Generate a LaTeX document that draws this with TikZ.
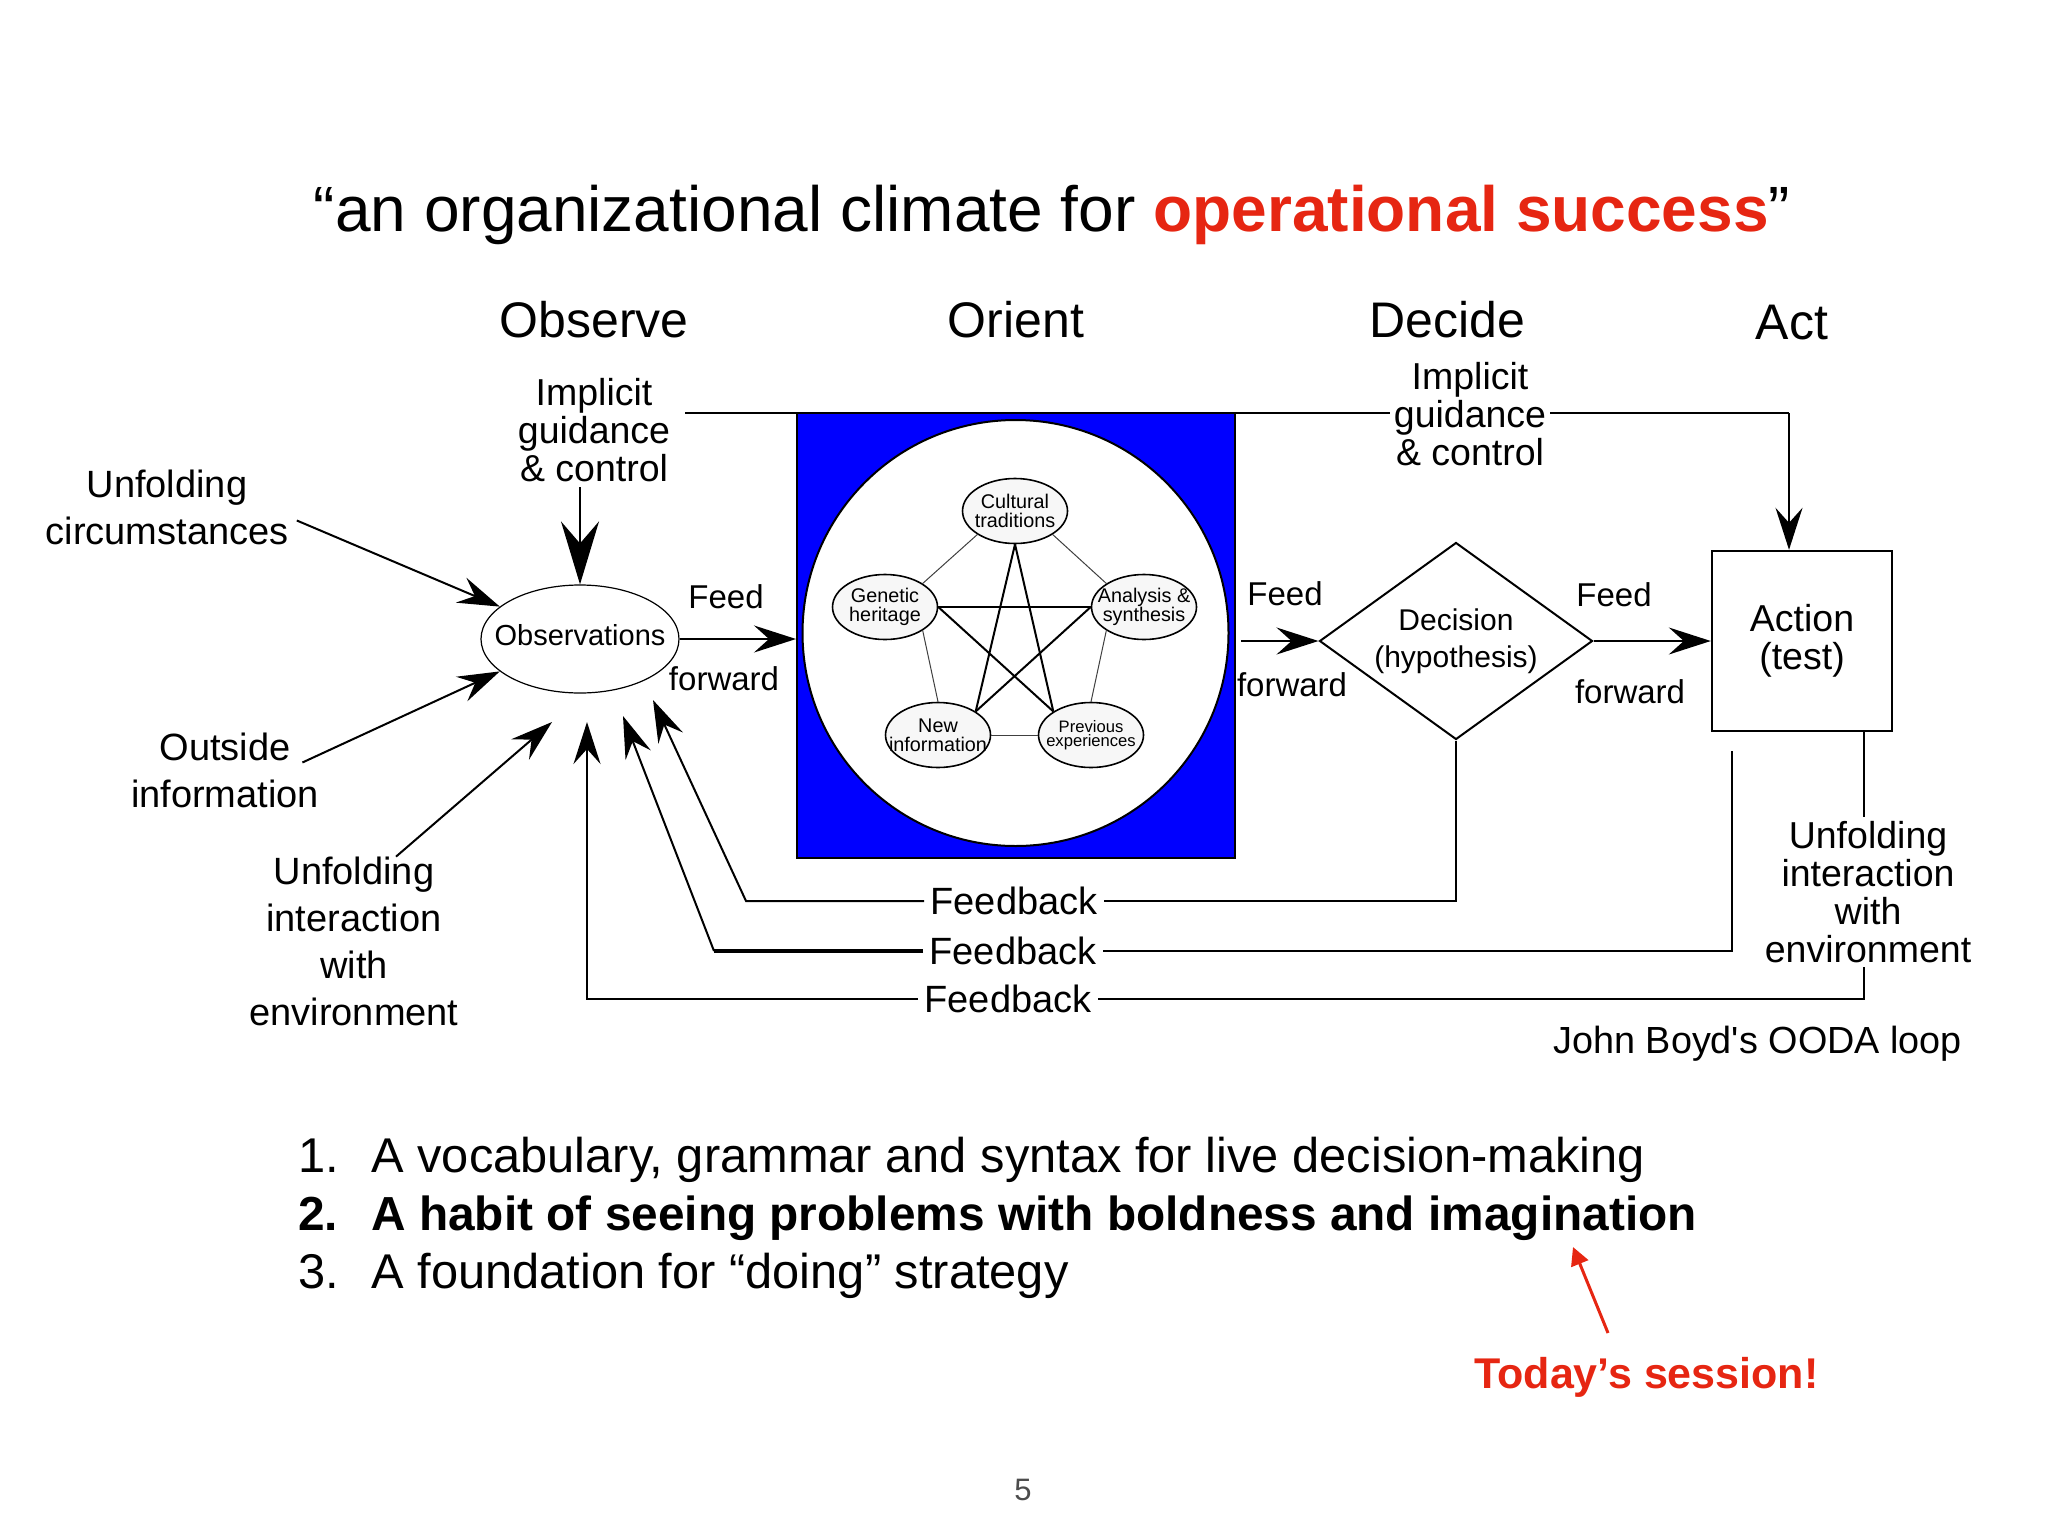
\documentclass[tikz,border=0pt]{standalone}
\usepackage{fontspec}
\setmainfont{Liberation Sans}
\usetikzlibrary{arrows.meta,shapes.geometric,calc}
\definecolor{slred}{RGB}{230,38,18}
\definecolor{ooblue}{RGB}{0,0,255}
\pgfdeclarelayer{back}
\pgfsetlayers{back,main}
\begin{document}
\begin{tikzpicture}[x=0.5pt,y=-0.5pt,
  conn/.style={line width=1pt},
  arr/.style={conn,-{Stealth[length=21pt,width=13.5pt,inset=7.5pt]}},
  bigarr/.style={conn,-{Stealth[length=31.5pt,width=19pt,inset=11pt]}},
  hdr/.style={font=\fontsize{25}{28}\selectfont,inner sep=0pt,anchor=base},
  lbl/.style={font=\fontsize{18.75}{19}\selectfont,align=center,inner sep=0pt},
  lblw/.style={lbl,fill=white,inner xsep=2pt,inner ysep=2pt},
  side/.style={font=\fontsize{19}{23.5}\selectfont,align=center,inner sep=0pt},
  feed/.style={font=\fontsize{16.5}{18}\selectfont,inner sep=0pt,anchor=base},
  fbk/.style={font=\fontsize{19}{20}\selectfont,inner xsep=3pt,inner ysep=0pt},
  ell/.style={ellipse,draw,fill=black!3,line width=0.8pt,minimum width=52.5pt,minimum height=32.5pt,inner sep=0pt},
  ilab/.style={font=\fontsize{9.9}{9.5}\selectfont,align=center,inner sep=0pt},
  ilabs/.style={font=\fontsize{8.3}{7}\selectfont,align=center,inner sep=0pt},
  star/.style={line width=1pt},
  pent/.style={line width=0.5pt,black!75},
  listtxt/.style={font=\fontsize{24.4}{28}\selectfont,inner sep=0pt,anchor=base west},
  listbold/.style={font=\bfseries\fontsize{23.9}{28}\selectfont,inner sep=0pt,anchor=base west}
]
\useasboundingbox (0,0) rectangle (2048,1536);

% title
\node[anchor=base,inner sep=0pt,font=\fontsize{32}{36}\selectfont] (title) at (1052,231)
  {“an organizational climate for \textcolor{slred}{\bfseries operational success}”};

% headers
\node[hdr] (hobs) at (594,337) {Observe};
\node[hdr] (hori) at (1016,337) {Orient};
\node[hdr] (hdec) at (1447,337) {Decide};
\node[hdr] (hact) at (1792,339) {Act};

% orient block
\node[draw,fill=ooblue,line width=1pt,minimum width=219pt,minimum height=222.5pt,inner sep=0pt] (orient) at (1016,635.5) {};
\node[circle,draw,fill=white,line width=1pt,minimum size=213pt,inner sep=0pt] (world) at (1015.5,633) {};
\node[ell,label={[ilab]center:{Cultural\\traditions}}] (C) at (1015,511) {};
\node[ell,label={[ilab]center:{Genetic\\heritage}}] (G) at (885,607) {};
\node[ell,label={[ilab]center:{Analysis \&\\synthesis}}] (A) at (1144,607) {};
\node[ell,label={[ilab]center:{New\\information}}] (N) at (938,735) {};
\node[ell,label={[ilabs]center:{Previous\\experiences}}] (P) at (1091,735) {};
\draw[pent] (C.south west) -- (G.north east);
\draw[pent] (C.south east) -- (A.north west);
\draw[pent] (G.south east) -- (N.north);
\draw[pent] (A.south west) -- (P.north);
\draw[pent] (N.east) -- (P.west);
\draw[star] (C.south) -- (N.north east);
\draw[star] (C.south) -- (P.north west);
\draw[star] (G.east) -- (A.west);
\draw[star] (G.east) -- (P.north west);
\draw[star] (A.west) -- (N.north east);

% observe
\node[ellipse,draw,line width=0.6pt,minimum width=99pt,minimum height=54pt,inner sep=0pt,
  label={[font=\fontsize{14.5}{16}\selectfont,inner sep=0pt,yshift=2pt]center:Observations}] (obs) at (580,639) {};

% decide
\node[diamond,draw,line width=1pt,minimum width=136.5pt,minimum height=98.5pt,inner sep=0pt,aspect=1.39,
  font=\fontsize{15}{18.5}\selectfont,align=center] (dec) at (1456,641) {Decision\\(hypothesis)};

% act
\node[draw,line width=1.2pt,minimum size=90pt,inner sep=0pt,font=\fontsize{18.75}{19}\selectfont,align=center] (act) at (1802,641) {Action\\(test)};

% labels
\node[lblw] (gl) at (594,430) {Implicit\\guidance\\\& control};
\node[lblw] (gr) at (1470,414.5) {Implicit\\guidance\\\& control};
\node[lblw] (ur) at (1868,892) {Unfolding\\interaction\\with\\environment};
\node[side] (uc) at (167,507.5) {Unfolding\\circumstances};
\node[side] (oi) at (225,770.5) {Outside\\information};
\node[side] (ui) at (354,941.5) {Unfolding\\interaction\\with\\environment};

\node[feed] (f1a) at (726,608) {Feed};
\node[feed] (f1b) at (724,690) {forward};
\node[feed] (f2a) at (1285,605) {Feed};
\node[feed] (f2b) at (1292,696) {forward};
\node[feed] (f3a) at (1614,606) {Feed};
\node[feed] (f3b) at (1630,703) {forward};

\node[fbk] (fb1) at (1014,901) {Feedback};
\node[fbk] (fb2) at (1013,951) {Feedback};
\node[fbk] (fb3) at (1008,999) {Feedback};

\node[anchor=base west,font=\fontsize{18.9}{20}\selectfont,inner sep=0pt] (boyd) at (1553,1053) {John Boyd\textquotesingle s OODA loop};

% coordinates
\coordinate (g0) at (685,413);
\coordinate (g1) at (1789,413);
\coordinate (gls) at (580,487);
\coordinate (t0) at (552,722);
\coordinate (t1) at (653,700);
\coordinate (t2) at (623,716);
\coordinate (t3) at (587,722);
\coordinate (c1) at (746,901);
\coordinate (c2) at (714,951);
\coordinate (c3) at (587,999);
\coordinate (s2) at (1732,751);
\coordinate (s3) at ([xshift=31pt]act.south);

\begin{pgfonlayer}{back}
\draw[conn] (g0) -- (g1);
\draw[arr] (g1) -- (g1 |- act.north);
\draw[bigarr] (gls) -- (obs.north);
\draw[arr] ([xshift=4pt,yshift=-6.5pt]uc.east) -- (obs.158);
\draw[arr] ([xshift=-8.5pt,yshift=4pt]oi.east) -- (obs.202);
\draw[arr] ([xshift=21pt]ui.north) -- (t0);
\draw[arr] (obs.east) -- (obs.east -| orient.west);
\draw[arr] ([xshift=2.5pt]orient.east |- dec.west) -- (dec.west);
\draw[arr] (dec.east) -- (dec.east -| act.west);
\draw[conn] (dec.south) |- (fb1.east);
\draw[arr] (fb1.west) -- (c1) -- (t1);
\draw[conn] (s2) |- (fb2.east);
\draw[conn,line width=2pt] (fb2.west) -- (c2);
\draw[arr] (c2) -- (t2);
\draw[conn] (s3) |- (fb3.east);
\draw[arr] (fb3.west) -- (c3) -- (t3);
\end{pgfonlayer}

% list
\node[listtxt] (n1) at (298,1172) {1.};
\node[listtxt] (i1) at (371,1172) {A vocabulary, grammar and syntax for live decision-making};
\node[listbold] (n2) at (298,1230) {2.};
\node[listbold] (i2) at (371,1230) {A habit of seeing problems with boldness and imagination};
\node[listtxt] (n3) at (298,1288) {3.};
\node[listtxt] (i3) at (371,1288) {A foundation for “doing” strategy};

% today's session
\node[anchor=base west,font=\bfseries\fontsize{21.5}{24}\selectfont,text=slred,inner sep=0pt] (today) at (1474,1388) {Today’s session!};
\coordinate (ra0) at (1608,1333);
\coordinate (ra1) at (1573,1247);
\draw[slred,line width=1.5pt,-{Triangle[length=9pt,width=9pt]}] (ra0) -- (ra1);

% page number
\node[anchor=base,font=\fontsize{15.5}{17}\selectfont,text=black!70,inner sep=0pt] (pg) at (1023,1500) {5};
\end{tikzpicture}
\end{document}
